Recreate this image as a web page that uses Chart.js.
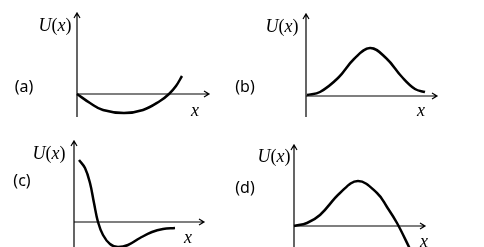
<!DOCTYPE html>
<html>
<head>
<meta charset="utf-8">
<script src="https://cdn.jsdelivr.net/npm/chart.js@4"></script>
<style>
  body { margin: 0; background: #fff; }
  #wrap { position: relative; width: 484px; height: 247px; overflow: hidden; }
  #wrap canvas { position: absolute; left: 0; top: 0; }
  .lbl { position: absolute; transform: translate(-50%, -50%); white-space: nowrap; color: #000; line-height: 1; }
  .var { font-family: "Liberation Serif", serif; font-size: 18px; }
  .var i { font-style: italic; }
  .tag { font-family: "Noto Sans", sans-serif; font-size: 16px; }
</style>
</head>
<body>
<div id="wrap">
  <canvas id="chart" width="484" height="247"></canvas>
</div>
<script>
const aX = [0, 1.3, 2.6, 4.7, 6.6, 8.3, 9.2, 9.9, 10.5];
const aU = [0, -0.9, -1.6, -1.9, -1.6, -0.7, 0, 0.8, 1.8];

const bX = [0.1, 1.4, 3.2, 4.8, 6.4, 8.0, 9.6, 10.9, 11.9];
const bU = [0.1, 0.4, 1.8, 3.7, 4.8, 3.8, 1.9, 0.7, 0.4];

const cX = [0.5, 1.1, 1.6, 2.0, 2.4, 2.9, 3.6, 4.4, 5.4, 6.6, 7.8, 8.9, 10.1];
const cU = [6.2, 5.4, 3.9, 1.9, 0, -1.3, -2.2, -2.5, -2.3, -1.6, -1.0, -0.7, -0.6];

const dX = [0, 1.3, 2.6, 4.6, 6.4, 8.3, 9.3, 10.3, 11.6];
const dU = [0, 0.3, 1.1, 3.3, 4.5, 3.3, 1.9, 0.3, -2.3];

const tags = ["(a)", "(b)", "(c)", "(d)"];
const xName = "x";
const uName = "U";

// where each little plot sits in the picture (pixels) and how long its axes are (units)
const panels = [
  { id: "a", ox: 77,  oy: 94,  xLen: 13.2, yTop: 8.1, yBot: -2.3, xs: aX, us: aU },
  { id: "b", ox: 306, oy: 96,  xLen: 13.1, yTop: 8.2, yBot: -2.1, xs: bX, us: bU },
  { id: "c", ox: 74,  oy: 222, xLen: 13.0, yTop: 8.1, yBot: -3.0, xs: cX, us: cU },
  { id: "d", ox: 294, oy: 226, xLen: 13.1, yTop: 8.1, yBot: -3.0, xs: dX, us: dU }
];

// label spots (centre, pixels): U(x), tag, x
const labelPos = [
  { u: [55, 25],   t: [24, 86],   x: [195, 110] },
  { u: [282, 26],  t: [245, 86],  x: [421, 110] },
  { u: [49, 153],  t: [22, 180],  x: [188, 237] },
  { u: [274, 156], t: [245, 187], x: [424, 241] }
];

const W = 484, H = 247, PX = 10; // 10 px per unit

const scales = {};
const datasets = [];
panels.forEach(p => {
  scales["x" + p.id] = { type: "linear", display: false, min: -p.ox / PX, max: (W - p.ox) / PX };
  scales["y" + p.id] = { type: "linear", display: false, min: (p.oy - H) / PX, max: p.oy / PX };
  datasets.push({
    data: p.xs.map((v, i) => ({ x: v, y: p.us[i] })),
    xAxisID: "x" + p.id,
    yAxisID: "y" + p.id,
    borderColor: "#000",
    borderWidth: 2.5,
    pointRadius: 0,
    tension: 0.4,
    fill: false
  });
});

// axes with open arrowheads
const axesPlugin = {
  id: "arrowAxes",
  beforeDatasetsDraw(chart) {
    const ctx = chart.ctx;
    ctx.save();
    ctx.strokeStyle = "#000";
    ctx.lineWidth = 1.2;
    panels.forEach(p => {
      const sx = chart.scales["x" + p.id], sy = chart.scales["y" + p.id];
      const x0 = sx.getPixelForValue(0), y0 = sy.getPixelForValue(0);
      const x1 = sx.getPixelForValue(p.xLen);
      const yt = sy.getPixelForValue(p.yTop), yb = sy.getPixelForValue(p.yBot);
      ctx.beginPath();
      ctx.moveTo(x0, y0); ctx.lineTo(x1, y0);
      ctx.moveTo(x0, yb); ctx.lineTo(x0, yt);
      // arrowheads
      ctx.moveTo(x1 - 5, y0 - 3); ctx.lineTo(x1, y0); ctx.lineTo(x1 - 5, y0 + 3);
      ctx.moveTo(x0 - 3, yt + 5); ctx.lineTo(x0, yt); ctx.lineTo(x0 + 3, yt + 5);
      ctx.stroke();
    });
    ctx.restore();
  }
};

new Chart(document.getElementById("chart"), {
  type: "line",
  data: { datasets: datasets },
  options: {
    responsive: false,
    animation: false,
    layout: { padding: 0 },
    scales: scales,
    plugins: { legend: { display: false }, tooltip: { enabled: false } }
  },
  plugins: [axesPlugin]
});

// text labels
const wrap = document.getElementById("wrap");
function addLabel(html, cls, pos) {
  const el = document.createElement("div");
  el.className = "lbl " + cls;
  el.innerHTML = html;
  el.style.left = pos[0] + "px";
  el.style.top = pos[1] + "px";
  wrap.appendChild(el);
}
labelPos.forEach((lp, i) => {
  addLabel("<i>" + uName + "</i>(<i>" + xName + "</i>)", "var", lp.u);
  addLabel(tags[i], "tag", lp.t);
  addLabel("<i>" + xName + "</i>", "var", lp.x);
});
</script>
</body>
</html>
